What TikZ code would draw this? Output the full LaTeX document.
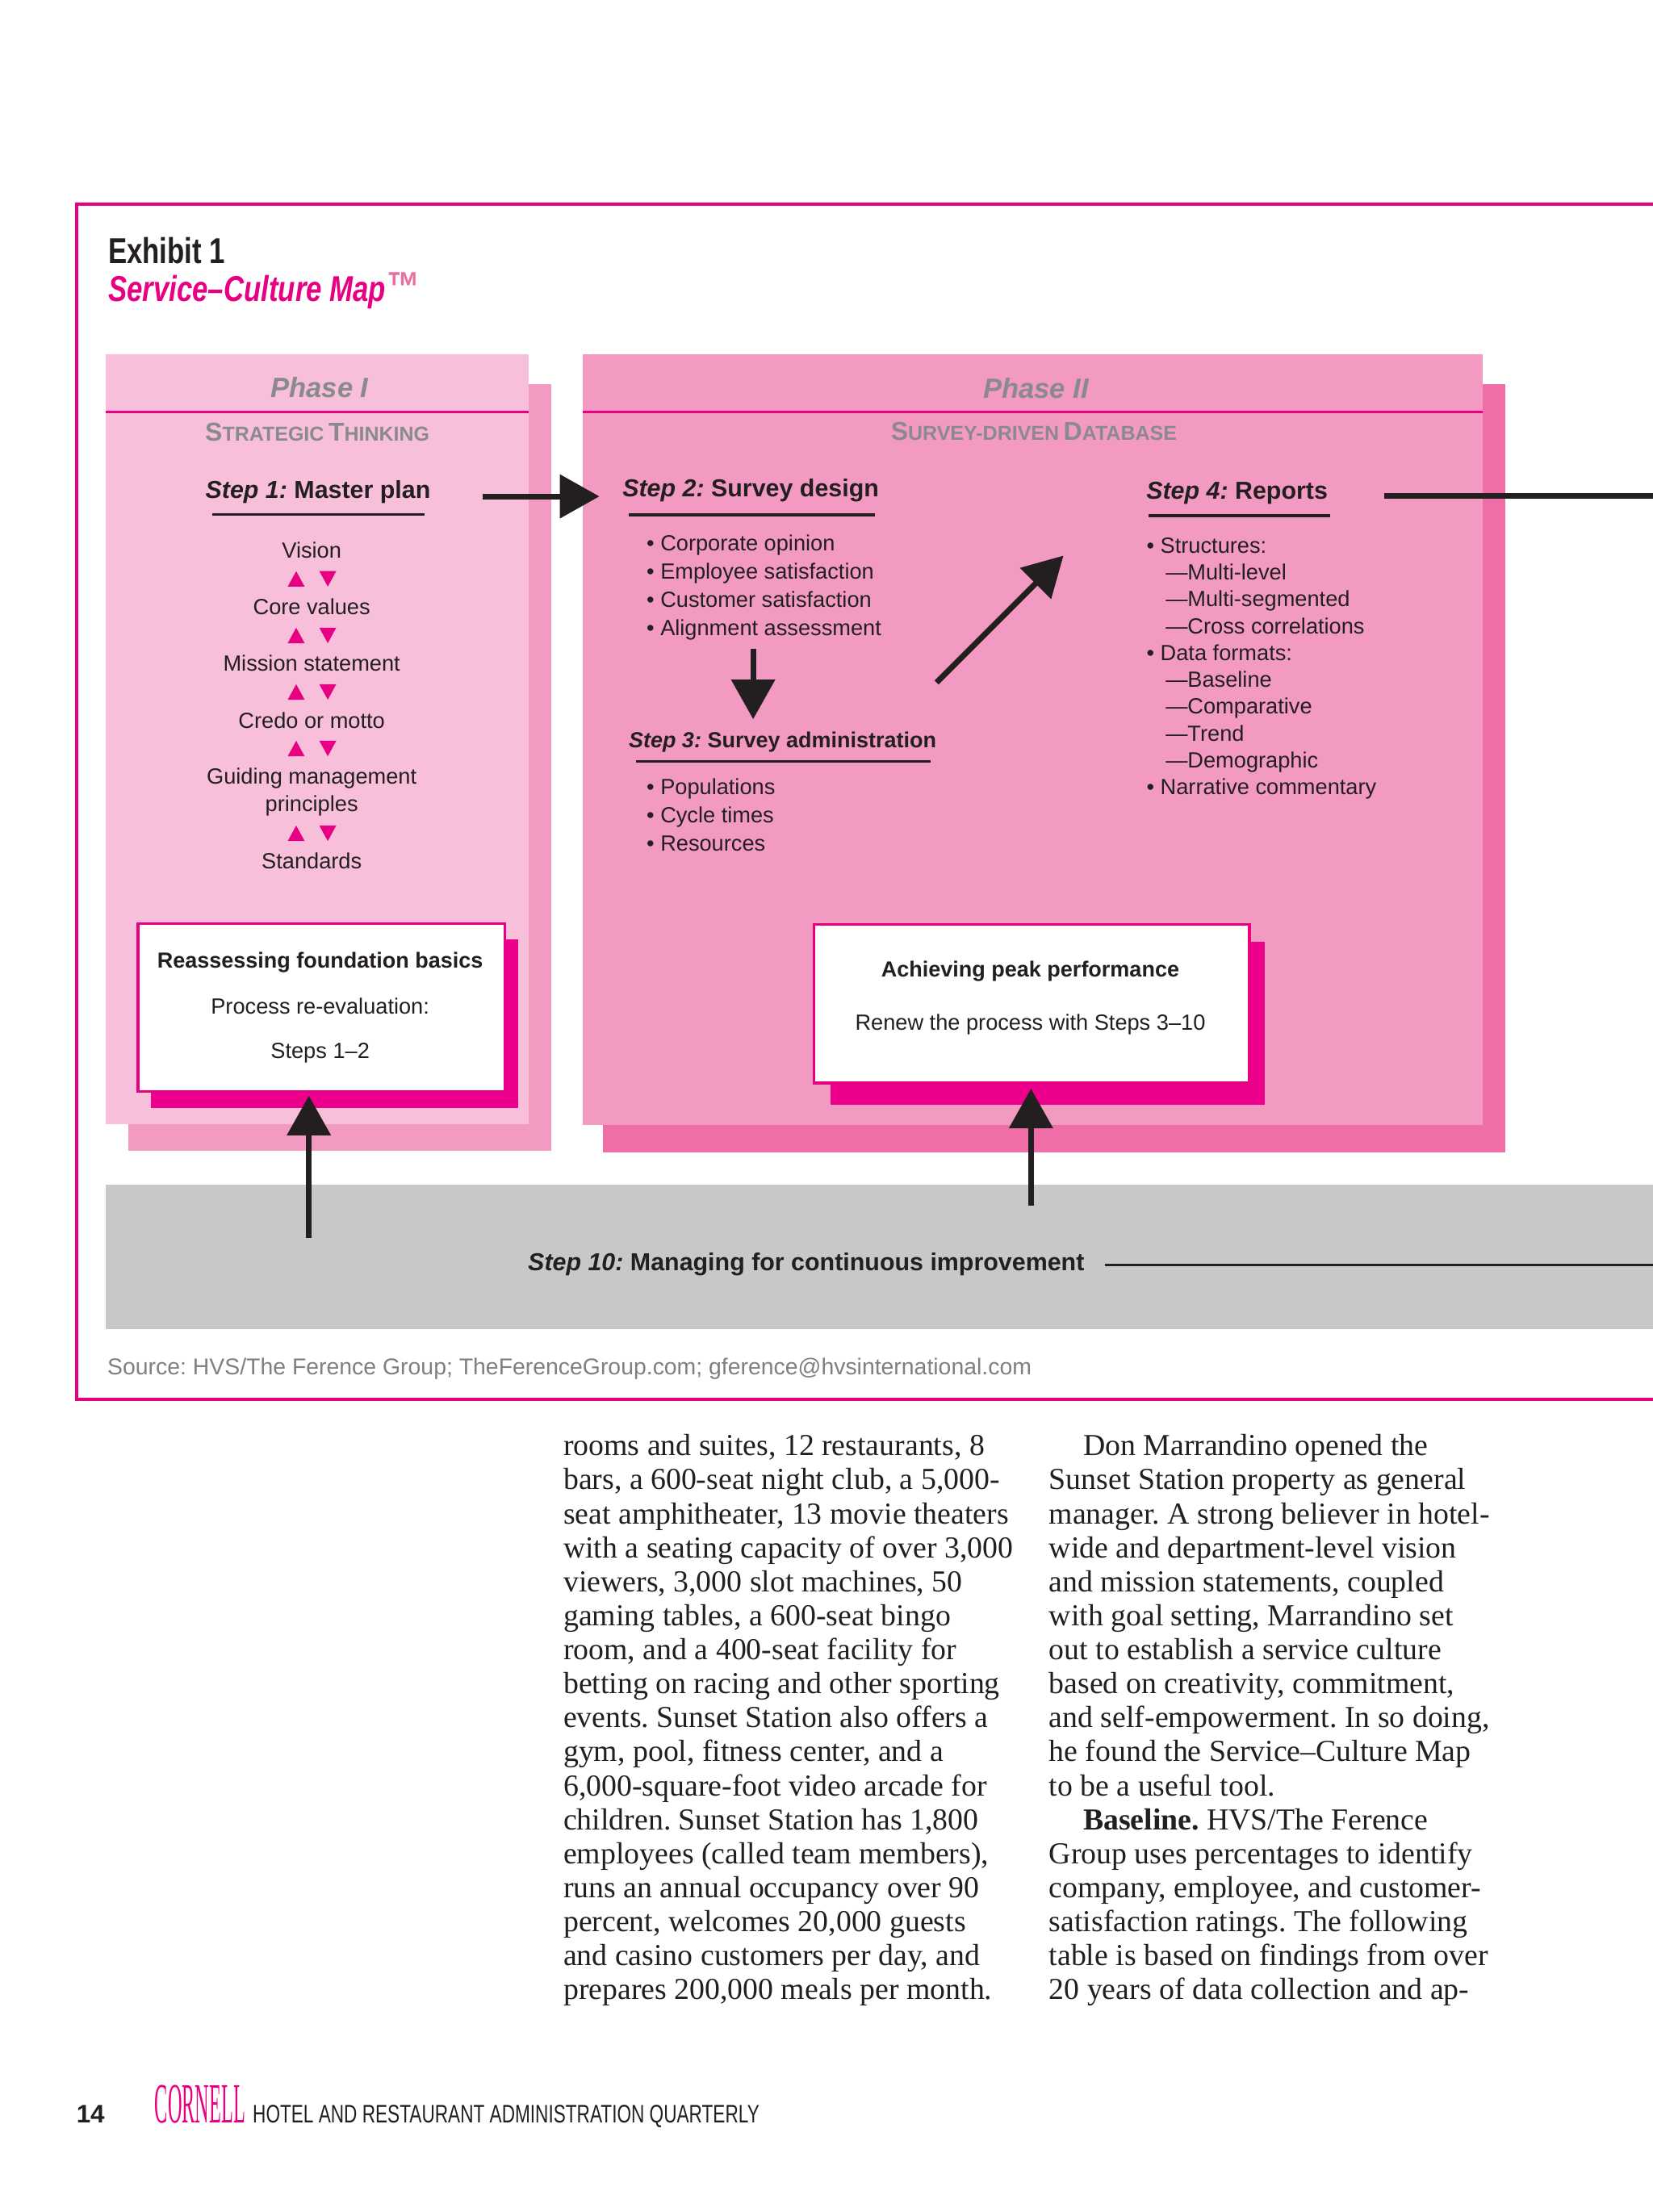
\documentclass[tikz,border=0pt]{standalone}
\usepackage{fontspec}
\setmainfont{Liberation Sans}
\newfontfamily\bodyserif{Liberation Serif}
\newfontfamily\cornellfont[FakeStretch=0.345]{Liberation Serif}
\newfontfamily\narrowsans[FakeStretch=0.72]{Liberation Sans}
\newfontfamily\condsans[FakeStretch=0.78]{Liberation Sans}
\usetikzlibrary{arrows.meta}
\definecolor{mag}{RGB}{232,0,130}
\definecolor{tmpink}{RGB}{236,110,160}
\definecolor{lightpink}{RGB}{247,191,218}
\definecolor{midpink}{RGB}{243,154,194}
\definecolor{deeppink}{RGB}{240,110,168}
\definecolor{boxshadow}{RGB}{236,0,140}
\definecolor{band}{RGB}{200,200,202}
\definecolor{phasegray}{RGB}{138,138,142}
\definecolor{srcgray}{RGB}{128,128,130}
\definecolor{ink}{RGB}{35,31,32}
\newcommand\capbig[1]{{\fontsize{16}{16}\selectfont #1}}
\newcommand\capsmall[1]{{\fontsize{12.5}{12.5}\selectfont #1}}
\frenchspacing
\begin{document}
\frenchspacing
\begin{tikzpicture}[x=0.8737pt,y=-0.8737pt,
  txt/.style={inner sep=0pt, outer sep=0pt, text=ink, font=\fontsize{13.6}{16}\selectfont},
  lbl/.style={txt, anchor=base west},
  clbl/.style={txt, anchor=base},
  boxtitle/.style={clbl, font=\fontsize{13.5}{16}\selectfont\bfseries},
  stephead/.style={inner sep=0pt, outer sep=0pt, anchor=base west, text=ink, font=\fontsize{15.2}{18}\selectfont\bfseries},
  phasehead/.style={inner sep=0pt, anchor=base, text=phasegray, font=\fontsize{17.3}{20}\selectfont\bfseries\itshape},
  phasesub/.style={inner sep=0pt, anchor=base, text=phasegray, font=\bfseries},
  body/.style={inner sep=0pt, anchor=base west, text=ink, font=\fontsize{18.9}{21}\selectfont\bodyserif},
  bigarrow/.style={line width=3.5pt, draw=ink, -{Triangle[length=24.5pt,width=26.5pt]}},
  uline/.style={line width=1.75pt, draw=ink},
  pinkline/.style={line width=1.3pt, draw=mag},
  whitebox/.style={fill=white, draw=mag, line width=1.75pt},
  pip/.style={fill=mag}
]
\clip (0,0) rectangle (1172,1568.6);
\fill[white] (0,0) rectangle (1172,1568.6);

% frame
\draw[mag, line width=1.9pt] (1190,144.8) -- (54.4,144.8) -- (54.4,992.5) -- (1190,992.5);

% titles
\node[inner sep=0pt, anchor=base west, text=ink, font=\fontsize{22.3}{24}\selectfont\condsans\bfseries] (exh) at (76.5,187) {Exhibit 1};
\node[inner sep=0pt, anchor=base west, text=mag, font=\fontsize{22.3}{24}\selectfont\condsans\bfseries\itshape] (ttl) at (76.5,213.5) {Service–Culture Map{\color{tmpink}\fontsize{26}{26}\selectfont™}};

% panels
\fill[midpink] (91,272.3) rectangle (391,816);
\fill[lightpink] (75,251.2) rectangle (375,797);
\fill[deeppink] (427.5,272.5) rectangle (1067,817);
\fill[midpink] (413,251.2) rectangle (1051,798);

\draw[pinkline] (75,292.2) -- (375,292.2);
\draw[pinkline] (413,292.2) -- (1051,292.2);

% phase headings
\node[phasehead] (ph1) at (226.6,281.7) {Phase I};
\node[phasesub] (ph1s) at (225,312.5) {\capbig{S}\capsmall{TRATEGIC} \capbig{T}\capsmall{HINKING}};
\node[phasehead] (ph2) at (734.5,282.6) {Phase II};
\node[phasesub] (ph2s) at (733,312) {\capbig{S}\capsmall{URVEY-DRIVEN} \capbig{D}\capsmall{ATABASE}};

% Step 1
\node[stephead, anchor=base] (s1) at (225.5,353.5) {{\itshape Step 1:} Master plan};
\draw[uline] (150.7,364.8) -- (300.8,364.8);
\node[clbl] (v1) at (221,395.7) {Vision};
\node[clbl] (v2) at (221,435.8) {Core values};
\node[clbl] (v3) at (221,475.9) {Mission statement};
\node[clbl] (v4) at (221,516.2) {Credo or motto};
\node[clbl] (v5) at (221,556.1) {Guiding management};
\node[clbl] (v5b) at (221,575.5) {principles};
\node[clbl] (v6) at (221,616) {Standards};
\foreach \yy in {410.5,450.6,490.7,530.8,590.9}{
  \fill[pip] (204,\yy+5.5) -- (216,\yy+5.5) -- (210,\yy-5.5) -- cycle;
  \fill[pip] (226.4,\yy-5.5) -- (238.4,\yy-5.5) -- (232.4,\yy+5.5) -- cycle;
}

% Reassessing box
\fill[boxshadow] (107,666) rectangle (367.5,786);
\draw[whitebox] (97.8,655) rectangle (358,774);
\node[boxtitle] (rb1) at (227,686.7) {Reassessing foundation basics};
\node[clbl] (rb2) at (227,718.8) {Process re-evaluation:};
\node[clbl] (rb3) at (227,750.6) {Steps 1–2};

% Step 2
\node[stephead] (s2) at (441.4,352) {{\itshape Step 2:} Survey design};
\draw[uline] (446,365) -- (620.5,365);
\node[lbl] (b21) at (458.5,390.3) {• Corporate opinion};
\node[lbl] (b22) at (458.5,410.6) {• Employee satisfaction};
\node[lbl] (b23) at (458.5,430.8) {• Customer satisfaction};
\node[lbl] (b24) at (458.5,450.4) {• Alignment assessment};

% Step 3
\node[stephead, font=\fontsize{13.5}{16}\selectfont\bfseries] (s3) at (445.8,530) {{\itshape Step 3:} Survey administration};
\draw[uline] (451,540) -- (660,540);
\node[lbl] (b31) at (458.5,563.3) {• Populations};
\node[lbl] (b32) at (458.5,583.5) {• Cycle times};
\node[lbl] (b33) at (458.5,603.2) {• Resources};

% Step 4
\node[stephead] (s4) at (812.8,353.7) {{\itshape Step 4:} Reports};
\draw[uline] (814.6,365.7) -- (943,365.7);
\node[lbl] (b41) at (813,392.3) {• Structures:};
\node[lbl] (b42) at (826.5,411.3) {—Multi-level};
\node[lbl] (b43) at (826.5,430.3) {—Multi-segmented};
\node[lbl] (b44) at (826.5,449.3) {—Cross correlations};
\node[lbl] (b45) at (813,468.3) {• Data formats:};
\node[lbl] (b46) at (826.5,487.3) {—Baseline};
\node[lbl] (b47) at (826.5,506.4) {—Comparative};
\node[lbl] (b48) at (826.5,525.4) {—Trend};
\node[lbl] (b49) at (826.5,544.4) {—Demographic};
\node[lbl] (b410) at (813,563.4) {• Narrative commentary};

% Achieving box
\fill[boxshadow] (589,668) rectangle (897,783.5);
\draw[whitebox] (577,655.5) rectangle (886,768);
\node[boxtitle] (ab1) at (730.5,692.5) {Achieving peak performance};
\node[clbl] (ab2) at (730.5,730.4) {Renew the process with Steps 3–10};

% gray band
\fill[band] (75,840) rectangle (1190,942.6);
\node[inner sep=0pt, anchor=base east, text=ink, font=\fontsize{15.2}{18}\selectfont\bfseries] (s10) at (769,901.3) {{\itshape Step 10:} Managing for continuous improvement};

% connectors
\coordinate (a1s) at (342,352);
\coordinate (a1e) at (425,352);
\draw[bigarrow] (a1s) -- (a1e);
\coordinate (a2s) at (534,460);
\coordinate (a2e) at (534,510);
\draw[bigarrow] (a2s) -- (a2e);
\coordinate (a3s) at (664,484);
\coordinate (a3e) at (754,394);
\draw[bigarrow] (a3s) -- (a3e);
\coordinate (a4s) at (219,878);
\coordinate (a4e) at (219,777);
\draw[bigarrow] (a4s) -- (a4e);
\coordinate (a5s) at (731,855);
\coordinate (a5e) at (731,772);
\draw[bigarrow] (a5s) -- (a5e);
\coordinate (l4s) at (981.6,351.5);
\coordinate (l4e) at (1190,351.5);
\draw[line width=3.5pt, ink] (l4s) -- (l4e);
\coordinate (l10s) at (783.5,897);
\coordinate (l10e) at (1190,897);
\draw[line width=1.7pt, ink] (l10s) -- (l10e);

% source
\node[inner sep=0pt, anchor=base west, text=srcgray, font=\fontsize{14.2}{16}\selectfont] (src) at (76,975) {Source: HVS/The Ference Group; TheFerenceGroup.com; gference@hvsinternational.com};

% body text, left column
\foreach \t [count=\i from 0] in {
 {rooms and suites, 12 restaurants, 8},
 {bars, a 600-seat night club, a 5,000-},
 {seat amphitheater, 13 movie theaters},
 {with a seating capacity of over 3,000},
 {viewers, 3,000 slot machines, 50},
 {gaming tables, a 600-seat bingo},
 {room, and a 400-seat facility for},
 {betting on racing and other sporting},
 {events. Sunset Station also offers a},
 {gym, pool, fitness center, and a},
 {6,000-square-foot video arcade for},
 {children. Sunset Station has 1,800},
 {employees (called team members),},
 {runs an annual occupancy over 90},
 {percent, welcomes 20,000 guests},
 {and casino customers per day, and},
 {prepares 200,000 meals per month.}}{
  \node[body] (L\i) at (399.3,{1032.3+24.1*\i}) {\t};
}
% body text, right column
\node[body] (R0) at (767.8,1032.3) {Don Marrandino opened the};
\foreach \t [count=\i from 1] in {
 {Sunset Station property as general},
 {manager. A strong believer in hotel-},
 {wide and department-level vision},
 {and mission statements, coupled},
 {with goal setting, Marrandino set},
 {out to establish a service culture},
 {based on creativity, commitment,},
 {and self-empowerment. In so doing,},
 {he found the Service–Culture Map},
 {to be a useful tool.}}{
  \node[body] (R\i) at (743.6,{1032.3+24.1*\i}) {\t};
}
\node[body] (R11) at (767.8,{1032.3+24.1*11}) {\textbf{Baseline.} HVS/The Ference};
\foreach \t [count=\i from 12] in {
 {Group uses percentages to identify},
 {company, employee, and customer-},
 {satisfaction ratings. The following},
 {table is based on findings from over},
 {20 years of data collection and ap-}}{
  \node[body] (R\i) at (743.6,{1032.3+24.1*\i}) {\t};
}

% footer
\node[inner sep=0pt, anchor=base west, text=ink, font=\fontsize{15.7}{18}\selectfont\bfseries] (pg) at (54,1505.5) {14};
\node[inner sep=0pt, anchor=base west, text=mag, font=\fontsize{35.2}{36}\selectfont\cornellfont] (corn) at (109.6,1505.5) {CORNELL};
\node[inner sep=0pt, anchor=base west, text=ink, font=\fontsize{15.7}{18}\selectfont\narrowsans] (hraq) at (179,1505.5) {HOTEL AND RESTAURANT ADMINISTRATION QUARTERLY};
\end{tikzpicture}
\end{document}
